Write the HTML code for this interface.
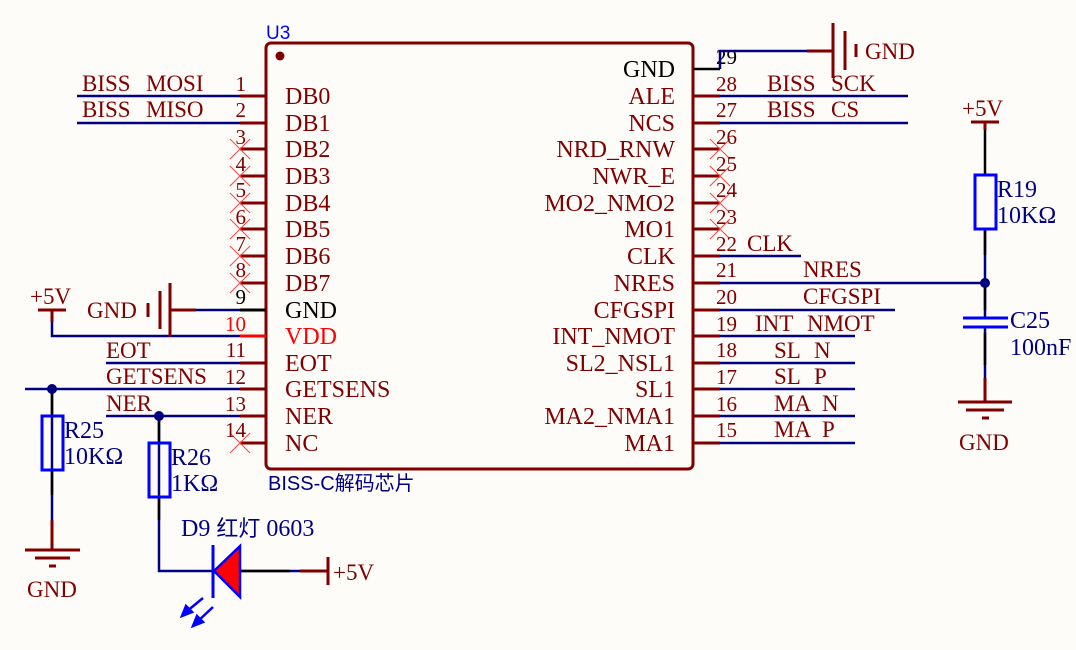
<!DOCTYPE html><html><head><style>body{margin:0;background:#fefcf8}svg{display:block}
.s{font-family:"Liberation Serif",serif;fill:#800000}
.n{font-family:"Liberation Serif",serif;fill:#800000;font-size:21px}
.p{font-size:24px}
.b{fill:#000080;font-family:"Liberation Serif",serif;font-size:24px}
</style></head><body>
<svg width="1076" height="650" viewBox="0 0 1076 650" xmlns="http://www.w3.org/2000/svg">
<rect width="1076" height="650" fill="#fefcf8"/>
<text x="266" y="39" font-family="Liberation Sans,sans-serif" font-size="19" fill="#0000ff">U3</text>
<rect x="266" y="43" width="427" height="426" rx="5" fill="none" stroke="#800000" stroke-width="3"/>
<circle cx="280" cy="56" r="4.5" fill="#800000"/>
<text x="268" y="490" font-family="Liberation Sans,'Noto Sans CJK SC',sans-serif" font-size="20" fill="#000080">BISS-C解码芯片</text>
<g stroke="#800000" stroke-width="3">
<line x1="240" y1="96" x2="266" y2="96"/><line x1="240" y1="123" x2="266" y2="123"/>
<line x1="240" y1="149" x2="266" y2="149"/><line x1="240" y1="176" x2="266" y2="176"/>
<line x1="240" y1="203" x2="266" y2="203"/><line x1="240" y1="229" x2="266" y2="229"/>
<line x1="240" y1="256" x2="266" y2="256"/><line x1="240" y1="283" x2="266" y2="283"/>
<line x1="240" y1="363" x2="266" y2="363"/><line x1="240" y1="389" x2="266" y2="389"/>
<line x1="240" y1="416" x2="266" y2="416"/><line x1="240" y1="443" x2="266" y2="443"/>
<line x1="693" y1="96" x2="720" y2="96"/><line x1="693" y1="123" x2="720" y2="123"/>
<line x1="693" y1="149" x2="720" y2="149"/><line x1="693" y1="176" x2="720" y2="176"/>
<line x1="693" y1="203" x2="720" y2="203"/><line x1="693" y1="229" x2="720" y2="229"/>
<line x1="693" y1="256" x2="720" y2="256"/><line x1="693" y1="283" x2="720" y2="283"/>
<line x1="693" y1="310" x2="720" y2="310"/><line x1="693" y1="336" x2="720" y2="336"/>
<line x1="693" y1="363" x2="720" y2="363"/><line x1="693" y1="389" x2="720" y2="389"/>
<line x1="693" y1="416" x2="720" y2="416"/><line x1="693" y1="443" x2="720" y2="443"/>
</g>
<line x1="240" y1="310" x2="266" y2="310" stroke="#000" stroke-width="3"/>
<line x1="240" y1="336" x2="266" y2="336" stroke="#f00" stroke-width="3"/>
<polyline points="693,69 720,69" stroke="#000" stroke-width="2.5" fill="none"/>
<g stroke="#f44" stroke-width="1">
<path d="M230,139 l20,20 M250,139 l-20,20 M230,166 l20,20 M250,166 l-20,20 M230,193 l20,20 M250,193 l-20,20 M230,219 l20,20 M250,219 l-20,20 M230,246 l20,20 M250,246 l-20,20 M230,273 l20,20 M250,273 l-20,20 M230,433 l20,20 M250,433 l-20,20"/>
<path d="M710,139 l20,20 M730,139 l-20,20 M710,166 l20,20 M730,166 l-20,20 M710,193 l20,20 M730,193 l-20,20 M710,219 l20,20 M730,219 l-20,20"/>
</g>
<g class="s p">
<text x="285" y="104">DB0</text><text x="285" y="131">DB1</text><text x="285" y="157">DB2</text>
<text x="285" y="184">DB3</text><text x="285" y="211">DB4</text><text x="285" y="237">DB5</text>
<text x="285" y="264">DB6</text><text x="285" y="291">DB7</text>
<text x="285" y="318" fill="#000">GND</text><text x="285" y="344" fill="#f00">VDD</text>
<text x="285" y="371">EOT</text><text x="285" y="397">GETSENS</text><text x="285" y="424">NER</text><text x="285" y="451">NC</text>
</g>
<g class="s p" text-anchor="end">
<text x="675" y="77" fill="#000">GND</text><text x="675" y="104">ALE</text><text x="675" y="131">NCS</text>
<text x="675" y="157">NRD_RNW</text><text x="675" y="184">NWR_E</text><text x="675" y="211">MO2_NMO2</text>
<text x="675" y="237">MO1</text><text x="675" y="264">CLK</text><text x="675" y="291">NRES</text>
<text x="675" y="318">CFGSPI</text><text x="675" y="344">INT_NMOT</text><text x="675" y="371">SL2_NSL1</text>
<text x="675" y="397">SL1</text><text x="675" y="424">MA2_NMA1</text><text x="675" y="451">MA1</text>
</g>
<g class="n" text-anchor="end">
<text x="246" y="91">1</text><text x="246" y="117">2</text><text x="246" y="144">3</text><text x="246" y="171">4</text>
<text x="246" y="197">5</text><text x="246" y="224">6</text><text x="246" y="251">7</text><text x="246" y="277">8</text>
<text x="246" y="304" fill="#000">9</text><text x="246" y="331" fill="#f00">10</text><text x="246" y="357">11</text>
<text x="246" y="384">12</text><text x="246" y="411">13</text><text x="246" y="437">14</text>
</g>
<g class="n">
<text x="716" y="64" fill="#000">29</text><text x="716" y="91">28</text><text x="716" y="117">27</text><text x="716" y="144">26</text>
<text x="716" y="171">25</text><text x="716" y="197">24</text><text x="716" y="224">23</text><text x="716" y="251">22</text>
<text x="716" y="277">21</text><text x="716" y="304">20</text><text x="716" y="331">19</text><text x="716" y="357">18</text>
<text x="716" y="384">17</text><text x="716" y="411">16</text><text x="716" y="437">15</text>
</g>
<g stroke="#000080" stroke-width="2.5" fill="none">
<line x1="77" y1="96" x2="240" y2="96"/><line x1="77" y1="123" x2="240" y2="123"/>
<polyline points="52,310 52,336 240,336"/>
<line x1="196" y1="310" x2="240" y2="310"/>
<line x1="106" y1="363" x2="240" y2="363"/>
<line x1="25" y1="389" x2="240" y2="389"/>
<line x1="106" y1="416" x2="240" y2="416"/>
<polyline points="720,69 720,51 807,51"/>
<line x1="720" y1="96" x2="908" y2="96"/><line x1="720" y1="123" x2="908" y2="123"/>
<line x1="720" y1="256" x2="801" y2="256"/><line x1="720" y1="283" x2="985" y2="283"/>
<line x1="720" y1="310" x2="895" y2="310"/><line x1="720" y1="336" x2="855" y2="336"/>
<line x1="720" y1="363" x2="855" y2="363"/><line x1="720" y1="389" x2="855" y2="389"/>
<line x1="720" y1="416" x2="855" y2="416"/><line x1="720" y1="443" x2="855" y2="443"/>
<line x1="985" y1="229" x2="985" y2="318"/><line x1="985" y1="327" x2="985" y2="378"/>
<line x1="52" y1="389" x2="52" y2="550"/>
<polyline points="159,416 159,571 212,571"/>
<line x1="240" y1="571" x2="300" y2="571"/>
</g>
<g stroke="#000" stroke-width="2.5">
<line x1="52" y1="389" x2="52" y2="416"/><line x1="52" y1="470" x2="52" y2="495"/>
<line x1="159" y1="416" x2="159" y2="443"/><line x1="159" y1="497" x2="159" y2="520"/>
<line x1="985" y1="130" x2="985" y2="175"/><line x1="985" y1="229" x2="985" y2="255"/>
<line x1="985" y1="283" x2="985" y2="310"/><line x1="985" y1="333" x2="985" y2="365"/>
<line x1="240" y1="571" x2="290" y2="571"/>
</g>
<g fill="#000080"><circle cx="52" cy="389" r="5"/><circle cx="159" cy="416" r="5"/><circle cx="985" cy="283" r="5"/></g>
<g stroke="#800000" stroke-width="3" fill="none">
<line x1="38" y1="310" x2="66" y2="310"/><line x1="52" y1="310" x2="52" y2="322"/>
<line x1="170" y1="310" x2="196" y2="310"/>
<line x1="170" y1="283" x2="170" y2="337"/><line x1="160" y1="291" x2="160" y2="329"/><line x1="148" y1="303" x2="148" y2="317"/>
<line x1="807" y1="51" x2="833" y2="51"/>
<line x1="833" y1="23" x2="833" y2="78"/><line x1="845" y1="31" x2="845" y2="70"/><line x1="856" y1="44" x2="856" y2="57"/>
<line x1="971" y1="122" x2="999" y2="122"/><line x1="985" y1="122" x2="985" y2="130"/>
<line x1="985" y1="378" x2="985" y2="402"/>
<line x1="958" y1="402" x2="1012" y2="402"/><line x1="966" y1="410" x2="1004" y2="410"/><line x1="982" y1="418" x2="989" y2="418"/>
<line x1="52" y1="520" x2="52" y2="550"/>
<line x1="25" y1="550" x2="80" y2="550"/><line x1="35" y1="558" x2="70" y2="558"/><line x1="49" y1="566" x2="56" y2="566"/>
<line x1="300" y1="571" x2="328" y2="571"/><line x1="328" y1="557" x2="328" y2="585"/>
</g>
<g stroke="#0000ff" stroke-width="3" fill="none">
<rect x="42" y="416" width="21" height="54"/><rect x="149" y="443" width="21" height="54"/><rect x="975" y="175" width="21" height="54"/>
<line x1="963" y1="318" x2="1008" y2="318"/><line x1="963" y1="327" x2="1008" y2="327"/>
<line x1="213" y1="545" x2="213" y2="598"/>
</g>
<polygon points="214,571 240,546 240,597" fill="#f00" stroke="#0000ff" stroke-width="2.5"/>
<g stroke="#0000ff" stroke-width="2.5" fill="#0000ff">
<line x1="203" y1="598" x2="186" y2="612"/><polygon points="182,616 186,606 192,612"/>
<line x1="213" y1="607" x2="197" y2="622"/><polygon points="193,626 197,616 203,622"/>
</g>
<g class="s" font-size="23">
<text x="82" y="91">BISS</text><text x="146" y="91">MOSI</text>
<text x="82" y="117">BISS</text><text x="146" y="117">MISO</text>
<text x="30" y="304">+5V</text><text x="87" y="318">GND</text>
<text x="106" y="358">EOT</text><text x="106" y="384">GETSENS</text><text x="106" y="411">NER</text>
<text x="27" y="597">GND</text><text x="333" y="580">+5V</text>
<text x="865" y="59">GND</text>
<text x="767" y="91">BISS</text><text x="831" y="91">SCK</text>
<text x="767" y="117">BISS</text><text x="831" y="117">CS</text>
<text x="747" y="251">CLK</text><text x="803" y="277">NRES</text><text x="803" y="304">CFGSPI</text>
<text x="755" y="331">INT</text><text x="807" y="331">NMOT</text>
<text x="774" y="358">SL</text><text x="814" y="358">N</text>
<text x="774" y="384">SL</text><text x="814" y="384">P</text>
<text x="774" y="411">MA</text><text x="822" y="411">N</text>
<text x="774" y="437">MA</text><text x="822" y="437">P</text>
<text x="962" y="116">+5V</text><text x="959" y="450">GND</text>
</g>
<g class="b">
<text x="997" y="197">R19</text><text x="997" y="223">10KΩ</text>
<text x="1010" y="328">C25</text><text x="1010" y="355">100nF</text>
<text x="64" y="438">R25</text><text x="64" y="464">10KΩ</text>
<text x="171" y="465">R26</text><text x="171" y="491">1KΩ</text>
<text x="181" y="536" font-family="Liberation Serif,'Noto Sans CJK SC',serif">D9 <tspan font-family="Noto Sans CJK SC,sans-serif" font-size="22">红灯</tspan> 0603</text>
</g>
</svg></body></html>
